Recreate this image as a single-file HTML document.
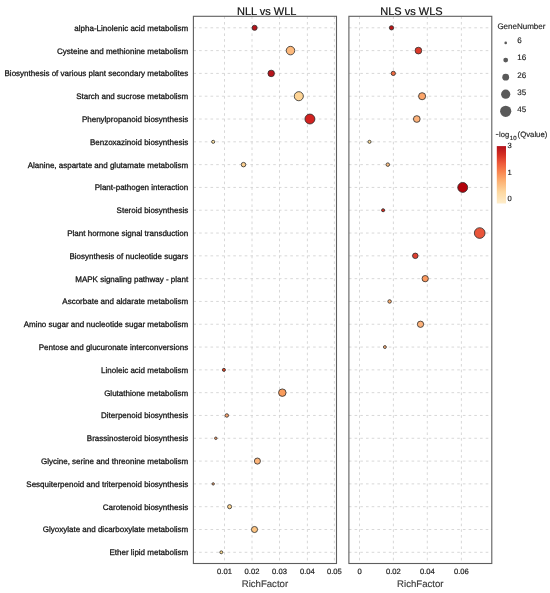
<!DOCTYPE html>
<html><head><meta charset="utf-8"><style>
html,body{margin:0;padding:0;background:#fff;width:550px;height:593px;overflow:hidden}
svg{display:block;font-family:"Liberation Sans",Arial,sans-serif}
</style></head><body>
<svg width="550" height="593" viewBox="0 0 550 593" text-rendering="geometricPrecision">
<rect width="550" height="593" fill="#fff"/>

<line x1="193.4" y1="27.80" x2="336.5" y2="27.80" stroke="#d4d4d4" stroke-width="0.9" stroke-dasharray="2.6 3.1" fill="none"/>
<line x1="193.4" y1="50.60" x2="336.5" y2="50.60" stroke="#d4d4d4" stroke-width="0.9" stroke-dasharray="2.6 3.1" fill="none"/>
<line x1="193.4" y1="73.41" x2="336.5" y2="73.41" stroke="#d4d4d4" stroke-width="0.9" stroke-dasharray="2.6 3.1" fill="none"/>
<line x1="193.4" y1="96.21" x2="336.5" y2="96.21" stroke="#d4d4d4" stroke-width="0.9" stroke-dasharray="2.6 3.1" fill="none"/>
<line x1="193.4" y1="119.02" x2="336.5" y2="119.02" stroke="#d4d4d4" stroke-width="0.9" stroke-dasharray="2.6 3.1" fill="none"/>
<line x1="193.4" y1="141.82" x2="336.5" y2="141.82" stroke="#d4d4d4" stroke-width="0.9" stroke-dasharray="2.6 3.1" fill="none"/>
<line x1="193.4" y1="164.63" x2="336.5" y2="164.63" stroke="#d4d4d4" stroke-width="0.9" stroke-dasharray="2.6 3.1" fill="none"/>
<line x1="193.4" y1="187.43" x2="336.5" y2="187.43" stroke="#d4d4d4" stroke-width="0.9" stroke-dasharray="2.6 3.1" fill="none"/>
<line x1="193.4" y1="210.23" x2="336.5" y2="210.23" stroke="#d4d4d4" stroke-width="0.9" stroke-dasharray="2.6 3.1" fill="none"/>
<line x1="193.4" y1="233.04" x2="336.5" y2="233.04" stroke="#d4d4d4" stroke-width="0.9" stroke-dasharray="2.6 3.1" fill="none"/>
<line x1="193.4" y1="255.84" x2="336.5" y2="255.84" stroke="#d4d4d4" stroke-width="0.9" stroke-dasharray="2.6 3.1" fill="none"/>
<line x1="193.4" y1="278.65" x2="336.5" y2="278.65" stroke="#d4d4d4" stroke-width="0.9" stroke-dasharray="2.6 3.1" fill="none"/>
<line x1="193.4" y1="301.45" x2="336.5" y2="301.45" stroke="#d4d4d4" stroke-width="0.9" stroke-dasharray="2.6 3.1" fill="none"/>
<line x1="193.4" y1="324.26" x2="336.5" y2="324.26" stroke="#d4d4d4" stroke-width="0.9" stroke-dasharray="2.6 3.1" fill="none"/>
<line x1="193.4" y1="347.06" x2="336.5" y2="347.06" stroke="#d4d4d4" stroke-width="0.9" stroke-dasharray="2.6 3.1" fill="none"/>
<line x1="193.4" y1="369.87" x2="336.5" y2="369.87" stroke="#d4d4d4" stroke-width="0.9" stroke-dasharray="2.6 3.1" fill="none"/>
<line x1="193.4" y1="392.67" x2="336.5" y2="392.67" stroke="#d4d4d4" stroke-width="0.9" stroke-dasharray="2.6 3.1" fill="none"/>
<line x1="193.4" y1="415.47" x2="336.5" y2="415.47" stroke="#d4d4d4" stroke-width="0.9" stroke-dasharray="2.6 3.1" fill="none"/>
<line x1="193.4" y1="438.28" x2="336.5" y2="438.28" stroke="#d4d4d4" stroke-width="0.9" stroke-dasharray="2.6 3.1" fill="none"/>
<line x1="193.4" y1="461.08" x2="336.5" y2="461.08" stroke="#d4d4d4" stroke-width="0.9" stroke-dasharray="2.6 3.1" fill="none"/>
<line x1="193.4" y1="483.89" x2="336.5" y2="483.89" stroke="#d4d4d4" stroke-width="0.9" stroke-dasharray="2.6 3.1" fill="none"/>
<line x1="193.4" y1="506.69" x2="336.5" y2="506.69" stroke="#d4d4d4" stroke-width="0.9" stroke-dasharray="2.6 3.1" fill="none"/>
<line x1="193.4" y1="529.50" x2="336.5" y2="529.50" stroke="#d4d4d4" stroke-width="0.9" stroke-dasharray="2.6 3.1" fill="none"/>
<line x1="193.4" y1="552.30" x2="336.5" y2="552.30" stroke="#d4d4d4" stroke-width="0.9" stroke-dasharray="2.6 3.1" fill="none"/>
<line x1="224.5" y1="16.3" x2="224.5" y2="563.5" stroke="#d4d4d4" stroke-width="0.9" stroke-dasharray="2.6 3.1" fill="none"/>
<line x1="252.0" y1="16.3" x2="252.0" y2="563.5" stroke="#d4d4d4" stroke-width="0.9" stroke-dasharray="2.6 3.1" fill="none"/>
<line x1="279.5" y1="16.3" x2="279.5" y2="563.5" stroke="#d4d4d4" stroke-width="0.9" stroke-dasharray="2.6 3.1" fill="none"/>
<line x1="307.4" y1="16.3" x2="307.4" y2="563.5" stroke="#d4d4d4" stroke-width="0.9" stroke-dasharray="2.6 3.1" fill="none"/>
<line x1="334.4" y1="16.3" x2="334.4" y2="563.5" stroke="#d4d4d4" stroke-width="0.9" stroke-dasharray="2.6 3.1" fill="none"/>
<line x1="348.9" y1="27.80" x2="491.8" y2="27.80" stroke="#d4d4d4" stroke-width="0.9" stroke-dasharray="2.6 3.1" fill="none"/>
<line x1="348.9" y1="50.60" x2="491.8" y2="50.60" stroke="#d4d4d4" stroke-width="0.9" stroke-dasharray="2.6 3.1" fill="none"/>
<line x1="348.9" y1="73.41" x2="491.8" y2="73.41" stroke="#d4d4d4" stroke-width="0.9" stroke-dasharray="2.6 3.1" fill="none"/>
<line x1="348.9" y1="96.21" x2="491.8" y2="96.21" stroke="#d4d4d4" stroke-width="0.9" stroke-dasharray="2.6 3.1" fill="none"/>
<line x1="348.9" y1="119.02" x2="491.8" y2="119.02" stroke="#d4d4d4" stroke-width="0.9" stroke-dasharray="2.6 3.1" fill="none"/>
<line x1="348.9" y1="141.82" x2="491.8" y2="141.82" stroke="#d4d4d4" stroke-width="0.9" stroke-dasharray="2.6 3.1" fill="none"/>
<line x1="348.9" y1="164.63" x2="491.8" y2="164.63" stroke="#d4d4d4" stroke-width="0.9" stroke-dasharray="2.6 3.1" fill="none"/>
<line x1="348.9" y1="187.43" x2="491.8" y2="187.43" stroke="#d4d4d4" stroke-width="0.9" stroke-dasharray="2.6 3.1" fill="none"/>
<line x1="348.9" y1="210.23" x2="491.8" y2="210.23" stroke="#d4d4d4" stroke-width="0.9" stroke-dasharray="2.6 3.1" fill="none"/>
<line x1="348.9" y1="233.04" x2="491.8" y2="233.04" stroke="#d4d4d4" stroke-width="0.9" stroke-dasharray="2.6 3.1" fill="none"/>
<line x1="348.9" y1="255.84" x2="491.8" y2="255.84" stroke="#d4d4d4" stroke-width="0.9" stroke-dasharray="2.6 3.1" fill="none"/>
<line x1="348.9" y1="278.65" x2="491.8" y2="278.65" stroke="#d4d4d4" stroke-width="0.9" stroke-dasharray="2.6 3.1" fill="none"/>
<line x1="348.9" y1="301.45" x2="491.8" y2="301.45" stroke="#d4d4d4" stroke-width="0.9" stroke-dasharray="2.6 3.1" fill="none"/>
<line x1="348.9" y1="324.26" x2="491.8" y2="324.26" stroke="#d4d4d4" stroke-width="0.9" stroke-dasharray="2.6 3.1" fill="none"/>
<line x1="348.9" y1="347.06" x2="491.8" y2="347.06" stroke="#d4d4d4" stroke-width="0.9" stroke-dasharray="2.6 3.1" fill="none"/>
<line x1="348.9" y1="369.87" x2="491.8" y2="369.87" stroke="#d4d4d4" stroke-width="0.9" stroke-dasharray="2.6 3.1" fill="none"/>
<line x1="348.9" y1="392.67" x2="491.8" y2="392.67" stroke="#d4d4d4" stroke-width="0.9" stroke-dasharray="2.6 3.1" fill="none"/>
<line x1="348.9" y1="415.47" x2="491.8" y2="415.47" stroke="#d4d4d4" stroke-width="0.9" stroke-dasharray="2.6 3.1" fill="none"/>
<line x1="348.9" y1="438.28" x2="491.8" y2="438.28" stroke="#d4d4d4" stroke-width="0.9" stroke-dasharray="2.6 3.1" fill="none"/>
<line x1="348.9" y1="461.08" x2="491.8" y2="461.08" stroke="#d4d4d4" stroke-width="0.9" stroke-dasharray="2.6 3.1" fill="none"/>
<line x1="348.9" y1="483.89" x2="491.8" y2="483.89" stroke="#d4d4d4" stroke-width="0.9" stroke-dasharray="2.6 3.1" fill="none"/>
<line x1="348.9" y1="506.69" x2="491.8" y2="506.69" stroke="#d4d4d4" stroke-width="0.9" stroke-dasharray="2.6 3.1" fill="none"/>
<line x1="348.9" y1="529.50" x2="491.8" y2="529.50" stroke="#d4d4d4" stroke-width="0.9" stroke-dasharray="2.6 3.1" fill="none"/>
<line x1="348.9" y1="552.30" x2="491.8" y2="552.30" stroke="#d4d4d4" stroke-width="0.9" stroke-dasharray="2.6 3.1" fill="none"/>
<line x1="359.5" y1="16.3" x2="359.5" y2="563.5" stroke="#d4d4d4" stroke-width="0.9" stroke-dasharray="2.6 3.1" fill="none"/>
<line x1="393.4" y1="16.3" x2="393.4" y2="563.5" stroke="#d4d4d4" stroke-width="0.9" stroke-dasharray="2.6 3.1" fill="none"/>
<line x1="427.3" y1="16.3" x2="427.3" y2="563.5" stroke="#d4d4d4" stroke-width="0.9" stroke-dasharray="2.6 3.1" fill="none"/>
<line x1="461.4" y1="16.3" x2="461.4" y2="563.5" stroke="#d4d4d4" stroke-width="0.9" stroke-dasharray="2.6 3.1" fill="none"/>
<circle cx="254.6" cy="27.80" r="2.55" fill="#B5141B" stroke="#2b2b2b" stroke-width="0.8"/>
<circle cx="290.5" cy="50.60" r="4.25" fill="#FDB97C" stroke="#2b2b2b" stroke-width="0.8"/>
<circle cx="271.2" cy="73.41" r="3.25" fill="#B8141C" stroke="#2b2b2b" stroke-width="0.8"/>
<circle cx="298.8" cy="96.21" r="4.55" fill="#FED495" stroke="#2b2b2b" stroke-width="0.8"/>
<circle cx="309.9" cy="119.02" r="4.95" fill="#D22220" stroke="#2b2b2b" stroke-width="0.8"/>
<circle cx="213.2" cy="141.82" r="1.55" fill="#FEE2A0" stroke="#2b2b2b" stroke-width="0.8"/>
<circle cx="243.5" cy="164.63" r="2.25" fill="#FDD090" stroke="#2b2b2b" stroke-width="0.8"/>
<circle cx="223.9" cy="369.87" r="1.55" fill="#DC4224" stroke="#2b2b2b" stroke-width="0.8"/>
<circle cx="282.3" cy="392.67" r="3.75" fill="#F99C5C" stroke="#2b2b2b" stroke-width="0.8"/>
<circle cx="226.8" cy="415.47" r="1.75" fill="#FCA46E" stroke="#2b2b2b" stroke-width="0.8"/>
<circle cx="215.8" cy="438.28" r="1.25" fill="#F0A070" stroke="#2b2b2b" stroke-width="0.8"/>
<circle cx="257.4" cy="461.08" r="3.05" fill="#FDB57A" stroke="#2b2b2b" stroke-width="0.8"/>
<circle cx="213.2" cy="483.89" r="1.20" fill="#ECA470" stroke="#2b2b2b" stroke-width="0.8"/>
<circle cx="229.6" cy="506.69" r="2.05" fill="#FDD490" stroke="#2b2b2b" stroke-width="0.8"/>
<circle cx="254.5" cy="529.50" r="3.05" fill="#FDC583" stroke="#2b2b2b" stroke-width="0.8"/>
<circle cx="221.3" cy="552.30" r="1.45" fill="#FEDC90" stroke="#2b2b2b" stroke-width="0.8"/>
<circle cx="391.5" cy="27.80" r="2.15" fill="#B81515" stroke="#2b2b2b" stroke-width="0.8"/>
<circle cx="418.4" cy="50.60" r="3.35" fill="#DC3A2A" stroke="#2b2b2b" stroke-width="0.8"/>
<circle cx="393.3" cy="73.41" r="2.15" fill="#EE6A40" stroke="#2b2b2b" stroke-width="0.8"/>
<circle cx="422.1" cy="96.21" r="3.55" fill="#FCA56A" stroke="#2b2b2b" stroke-width="0.8"/>
<circle cx="416.8" cy="119.02" r="3.35" fill="#FDB27A" stroke="#2b2b2b" stroke-width="0.8"/>
<circle cx="369.5" cy="141.82" r="1.55" fill="#FEDE98" stroke="#2b2b2b" stroke-width="0.8"/>
<circle cx="387.8" cy="164.63" r="1.75" fill="#FDBE80" stroke="#2b2b2b" stroke-width="0.8"/>
<circle cx="462.7" cy="187.43" r="4.95" fill="#B2030B" stroke="#2b2b2b" stroke-width="0.8"/>
<circle cx="383.1" cy="210.23" r="1.55" fill="#D42C20" stroke="#2b2b2b" stroke-width="0.8"/>
<circle cx="479.7" cy="233.04" r="5.35" fill="#E8553A" stroke="#2b2b2b" stroke-width="0.8"/>
<circle cx="415.3" cy="255.84" r="2.75" fill="#E04030" stroke="#2b2b2b" stroke-width="0.8"/>
<circle cx="425.2" cy="278.65" r="3.15" fill="#FC9A60" stroke="#2b2b2b" stroke-width="0.8"/>
<circle cx="389.6" cy="301.45" r="1.75" fill="#FDB070" stroke="#2b2b2b" stroke-width="0.8"/>
<circle cx="420.5" cy="324.26" r="3.15" fill="#FDB27A" stroke="#2b2b2b" stroke-width="0.8"/>
<circle cx="384.9" cy="347.06" r="1.45" fill="#FDB27A" stroke="#2b2b2b" stroke-width="0.8"/>
<rect x="193.4" y="16.3" width="143.1" height="547.2" fill="none" stroke="#5e5e5e" stroke-width="1.1"/>
<rect x="348.9" y="16.3" width="142.9" height="547.2" fill="none" stroke="#5e5e5e" stroke-width="1.1"/>
<g font-size="8" fill="#141414" stroke="#141414" stroke-width="0.28" text-anchor="end">
<text x="188.2" y="30.75">alpha-Linolenic acid metabolism</text>
<text x="188.2" y="53.55">Cysteine and methionine metabolism</text>
<text x="188.2" y="76.36">Biosynthesis of various plant secondary metabolites</text>
<text x="188.2" y="99.16">Starch and sucrose metabolism</text>
<text x="188.2" y="121.97">Phenylpropanoid biosynthesis</text>
<text x="188.2" y="144.77">Benzoxazinoid biosynthesis</text>
<text x="188.2" y="167.58">Alanine, aspartate and glutamate metabolism</text>
<text x="188.2" y="190.38">Plant-pathogen interaction</text>
<text x="188.2" y="213.18">Steroid biosynthesis</text>
<text x="188.2" y="235.99">Plant hormone signal transduction</text>
<text x="188.2" y="258.79">Biosynthesis of nucleotide sugars</text>
<text x="188.2" y="281.60">MAPK signaling pathway - plant</text>
<text x="188.2" y="304.40">Ascorbate and aldarate metabolism</text>
<text x="188.2" y="327.21">Amino sugar and nucleotide sugar metabolism</text>
<text x="188.2" y="350.01">Pentose and glucuronate interconversions</text>
<text x="188.2" y="372.82">Linoleic acid metabolism</text>
<text x="188.2" y="395.62">Glutathione metabolism</text>
<text x="188.2" y="418.42">Diterpenoid biosynthesis</text>
<text x="188.2" y="441.23">Brassinosteroid biosynthesis</text>
<text x="188.2" y="464.03">Glycine, serine and threonine metabolism</text>
<text x="188.2" y="486.84">Sesquiterpenoid and triterpenoid biosynthesis</text>
<text x="188.2" y="509.64">Carotenoid biosynthesis</text>
<text x="188.2" y="532.45">Glyoxylate and dicarboxylate metabolism</text>
<text x="188.2" y="555.25">Ether lipid metabolism</text>
</g>
<text x="266.7" y="14.6" font-size="11" fill="#111" stroke="#111" stroke-width="0.2" text-anchor="middle">NLL vs WLL</text>
<text x="411.5" y="14.6" font-size="11" fill="#111" stroke="#111" stroke-width="0.2" text-anchor="middle">NLS vs WLS</text>
<g font-size="7.6" fill="#222" stroke="#222" stroke-width="0.2" text-anchor="middle">
<text x="224.5" y="574">0.01</text>
<text x="252.0" y="574">0.02</text>
<text x="279.5" y="574">0.03</text>
<text x="307.4" y="574">0.04</text>
<text x="334.4" y="574">0.05</text>
<text x="359.5" y="574">0</text>
<text x="393.4" y="574">0.02</text>
<text x="427.3" y="574">0.04</text>
<text x="461.4" y="574">0.06</text>
</g>
<text x="264.9" y="587.2" font-size="9.6" fill="#3a3a3a" stroke="#3a3a3a" stroke-width="0.15" text-anchor="middle">RichFactor</text>
<text x="420.3" y="587.2" font-size="9.6" fill="#3a3a3a" stroke="#3a3a3a" stroke-width="0.15" text-anchor="middle">RichFactor</text>
<text x="497.4" y="28.7" font-size="8" fill="#222" stroke="#222" stroke-width="0.15">GeneNumber</text>
<circle cx="505.7" cy="42.9" r="1.3" fill="#5a5a5a"/>
<text x="517.3" y="43.2" font-size="8" fill="#222" stroke="#222" stroke-width="0.15">6</text>
<circle cx="505.7" cy="60.1" r="2.4" fill="#5a5a5a"/>
<text x="517.3" y="60.4" font-size="8" fill="#222" stroke="#222" stroke-width="0.15">16</text>
<circle cx="505.7" cy="77.2" r="3.4" fill="#5a5a5a"/>
<text x="517.3" y="77.5" font-size="8" fill="#222" stroke="#222" stroke-width="0.15">26</text>
<circle cx="505.7" cy="94.2" r="4.6" fill="#5a5a5a"/>
<text x="517.3" y="94.5" font-size="8" fill="#222" stroke="#222" stroke-width="0.15">35</text>
<circle cx="505.7" cy="111.3" r="5.6" fill="#5a5a5a"/>
<text x="517.3" y="111.6" font-size="8" fill="#222" stroke="#222" stroke-width="0.15">45</text>
<defs><linearGradient id="cb" x1="0" y1="1" x2="0" y2="0">
<stop offset="0" stop-color="#FEEDCB"/>
<stop offset="0.2" stop-color="#FDD8A0"/>
<stop offset="0.4" stop-color="#FCAE70"/>
<stop offset="0.55" stop-color="#F8854F"/>
<stop offset="0.7" stop-color="#EE5A3A"/>
<stop offset="0.85" stop-color="#D42E22"/>
<stop offset="1" stop-color="#B3101A"/>
</linearGradient></defs>
<rect x="496.8" y="146.1" width="9.2" height="57.4" fill="url(#cb)"/>
<g fill="#222" stroke="#222" stroke-width="0.15"><text x="495.6" y="137" font-size="10">-</text><text x="499.0" y="137" font-size="7.6">log</text><text x="509.8" y="140" font-size="6">10</text><text x="517.6" y="137" font-size="7.75">(Qvalue)</text></g>
<text x="507.6" y="148.2" font-size="7.6" fill="#222" stroke="#222" stroke-width="0.15">3</text>
<text x="507.6" y="174.5" font-size="7.6" fill="#222" stroke="#222" stroke-width="0.15">1</text>
<text x="507.6" y="201.4" font-size="7.6" fill="#222" stroke="#222" stroke-width="0.15">0</text>
</svg></body></html>
